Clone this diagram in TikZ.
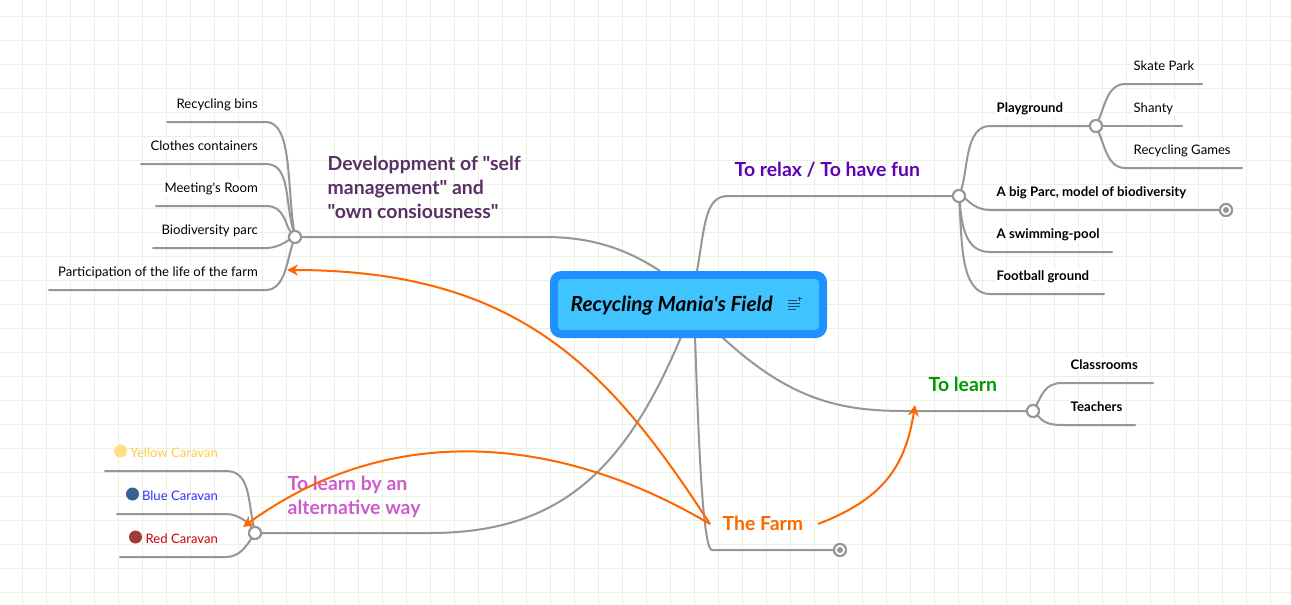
\documentclass[tikz,border=0pt]{standalone}
\usepackage{fontspec}
\setmainfont{Lato}[Ligatures=TeXOff]
\usetikzlibrary{arrows.meta}
\definecolor{gridc}{HTML}{E9F2DF}
\definecolor{linec}{HTML}{969696}
\definecolor{orangec}{HTML}{FF6600}
\definecolor{iconc}{RGB}{35,70,105}
\tikzset{
 x=1pt,y=-1pt,
 conn/.style={draw=linec,line width=2pt,line cap=round},
 knob/.style={circle,draw=linec,fill=white,line width=2pt,minimum size=12pt,inner sep=0pt},
 endknob/.style={circle,draw=linec,fill=white,line width=2pt,minimum size=12pt,inner sep=0pt},
 leaf/.style={font=\fontsize{13.1}{15}\selectfont,anchor=base west,inner sep=1.5pt,fill=white,text=black},
 bleaf/.style={leaf,font=\fontsize{13.2}{15}\selectfont\bfseries},
 rleaf/.style={font=\fontsize{13.15}{15}\selectfont,anchor=base east,inner sep=1.5pt,fill=white,text=black},
 topic/.style={font=\fontsize{19.4}{24}\selectfont\bfseries,anchor=base west,align=left,inner sep=0pt},
 arrowc/.style={draw=orangec,line width=2pt,-{Stealth[length=11pt,width=11pt]}},
 dotn/.style={circle,minimum size=13pt,inner sep=0pt},
}
\begin{document}
\begin{tikzpicture}
\useasboundingbox (0,0) rectangle (1291,605);
\fill[white] (0,0) rectangle (1291,605);
\foreach \i in {0,...,53} \draw[gridc,line width=1pt] ({22.5+24*\i},0) -- ({22.5+24*\i},605);
\foreach \i in {0,...,24} \draw[gridc,line width=1pt] (0,{16+24*\i}) -- (1291,{16+24*\i});

% hubs
\coordinate (cDev) at (660,271);
\coordinate (cRel) at (697,271);
\coordinate (cLearn) at (722,337);
\coordinate (cAlt) at (681,337);
\coordinate (cFarm) at (695,337);

\node[knob] (hubDev) at (295,237) {};
\node[knob] (hubRel) at (959,196) {};
\node[knob] (hubPlay) at (1096,126) {};
\node[knob] (hubLearn) at (1033,411) {};
\node[knob] (hubAlt) at (255,533) {};
\node[endknob] (endParc) at (1226,210) {};
\node[endknob] (endFarm) at (840,550) {};

% main branches
\draw[conn] (cDev) .. controls (625,248) and (590,237) .. (545,237) -- (hubDev);
\draw[conn] (cRel) .. controls (705,225) and (705,196) .. (728,196) -- (hubRel);
\draw[conn] (cLearn) .. controls (790,400) and (840,411) .. (905,411) -- (hubLearn);
\draw[conn] (cAlt) .. controls (625,470) and (560,533) .. (430,533) -- (hubAlt);
\draw[conn] (cFarm) .. controls (698,420) and (702,550) .. (712,550) -- (endFarm);

% relax children
\draw[conn] (hubRel) .. controls (968,170) and (965,126) .. (990,126) -- (hubPlay);
\draw[conn] (hubRel) .. controls (968,200) and (975,210) .. (990,210) -- (endParc);
\draw[conn] (hubRel) .. controls (962,225) and (965,252) .. (990,252) -- (1112,252);
\draw[conn] (hubRel) .. controls (962,240) and (960,294) .. (990,294) -- (1104,294);
% playground children
\draw[conn] (hubPlay) .. controls (1105,105) and (1108,84) .. (1125,84) -- (1202,84);
\draw[conn] (hubPlay) -- (1182,126);
\draw[conn] (hubPlay) .. controls (1105,147) and (1108,168) .. (1125,168) -- (1242,168);
% learn children
\draw[conn] (hubLearn) .. controls (1042,395) and (1045,383) .. (1062,383) -- (1153,383);
\draw[conn] (hubLearn) .. controls (1042,420) and (1045,425) .. (1062,425) -- (1135,425);
% dev children
\draw[conn] (hubDev) .. controls (287,185) and (292,122) .. (266,122) -- (167,122);
\draw[conn] (hubDev) .. controls (285,200) and (290,164) .. (266,164) -- (141,164);
\draw[conn] (hubDev) .. controls (285,225) and (285,206) .. (266,206) -- (156,206);
\draw[conn] (hubDev) .. controls (287,241) and (278,248) .. (266,248) -- (153,248);
\draw[conn] (hubDev) .. controls (287,260) and (285,290) .. (266,290) -- (49,290);
% alt children
\draw[conn] (hubAlt) .. controls (248,500) and (250,471) .. (226,471) -- (105,471);
\draw[conn] (hubAlt) .. controls (250,525) and (240,514) .. (226,514) -- (117,514);
\draw[conn] (hubAlt) .. controls (247,545) and (240,557) .. (226,557) -- (120,557);
\foreach \n in {hubDev,hubRel,hubPlay,hubLearn,hubAlt}
  \node[knob] at (\n) {};
\node[endknob] at (endParc) {};
\node[endknob] at (endFarm) {};
\fill[linec] (endParc) circle (3pt);
\fill[linec] (endFarm) circle (3pt);

% center
\node[draw=none,fill={rgb,255:red,30;green,144;blue,255},rounded corners=11pt,minimum width=277pt,minimum height=67pt,inner sep=0pt] (center) at (688.5,304.5) {};
\node[fill={rgb,255:red,64;green,196;blue,255},rounded corners=4pt,minimum width=261pt,minimum height=51pt,inner sep=0pt] (centerin) at (688.5,304.5) {};
\node[font=\fontsize{20.8}{24}\selectfont\bfseries\itshape,anchor=base west,inner sep=0pt] (ctitle) at (570.5,311) {Recycling Mania's Field};
\draw[iconc,line width=0.9pt] (788,300)--(797,300) (788,303.5)--(800,303.5) (788,306.5)--(800,306.5) (788,309.5)--(796,309.5) (797.5,298.5)--(801.5,298.5) (799.5,296.5)--(799.5,300.5);

% topics
\node[topic,text={rgb,255:red,92;green,46;blue,102}] (tDev) at (327.5,218) {Developpment of "self\\management" and\\"own consiousness"};
\node[topic,text={rgb,255:red,94;green,0;blue,184}] (tRel) at (734.5,176) {To relax / To have fun};
\node[topic,text={rgb,255:red,0;green,153;blue,0}] (tLearn) at (928.5,391) {To learn};
\node[topic,text={rgb,255:red,204;green,92;blue,204}] (tAlt) at (287.5,514) {To learn by an\\alternative way};
\node[topic,text=orangec] (tFarm) at (722.5,530) {The Farm};

% leaves
\node[bleaf] (lpg) at (995,112) {Playground};
\node[bleaf] (lpc) at (995,196) {A big Parc, model of biodiversity};
\node[bleaf] (lsw) at (995,238) {A swimming-pool};
\node[bleaf] (lfb) at (995,280) {Football ground};
\node[leaf] (lsk) at (1132,70) {Skate Park};
\node[leaf] (lsh) at (1132,112) {Shanty};
\node[leaf] (lrg) at (1132,154) {Recycling Games};
\node[bleaf] (lcl) at (1069,369) {Classrooms};
\node[bleaf] (lte) at (1069,411) {Teachers};
\node[rleaf] (l1) at (259.5,108) {Recycling bins};
\node[rleaf] (l2) at (259.5,150) {Clothes containers};
\node[rleaf] (l3) at (259.5,192) {Meeting's Room};
\node[rleaf] (l4) at (259.5,234) {Biodiversity parc};
\node[rleaf] (l5) at (259.5,276) {Participation of the life of the farm};

% caravans
\node[font=\fontsize{13.1}{15}\selectfont,anchor=base east,inner sep=0pt,text={rgb,255:red,255;green,204;blue,68}] (cy) at (218,457) {Yellow Caravan};
\node[font=\fontsize{13.1}{15}\selectfont,anchor=base east,inner sep=0pt,text={rgb,255:red,51;green,51;blue,255}] (cb) at (218,500) {Blue Caravan};
\node[font=\fontsize{13.1}{15}\selectfont,anchor=base east,inner sep=0pt,text={rgb,255:red,204;green,0;blue,0}] (cr) at (218,543) {Red Caravan};
\node[dotn,fill={rgb,255:red,255;green,224;blue,130}] (dy) at (120.5,451) {};
\node[dotn,fill={rgb,255:red,56;green,96;blue,144}] (db) at (132.5,494) {};
\node[dotn,fill={rgb,255:red,160;green,60;blue,52}] (dr) at (135.5,537) {};

% relations
\coordinate (fA) at (710,524);
\coordinate (fB) at (818,524);
\coordinate (aDev) at (287,270);
\coordinate (aAlt) at (243,527);
\coordinate (aLearn) at (915,405);
\draw[arrowc] (fA) .. controls (610,370) and (520,270) .. (aDev);
\draw[arrowc] (fA) .. controls (560,435) and (390,420) .. (aAlt);
\draw[arrowc] (fB) .. controls (880,500) and (905,470) .. (aLearn);
\end{tikzpicture}
\end{document}
